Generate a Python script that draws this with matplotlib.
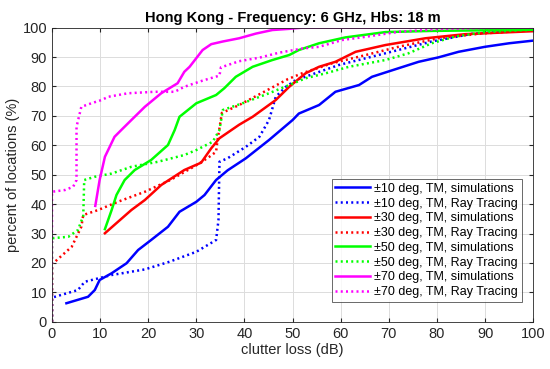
import matplotlib.pyplot as plt

plt.rcParams['font.family'] = ['Liberation Sans', 'DejaVu Sans']

# +-10 deg
b_sim_x = [3, 7.5, 8.9, 9.9, 12.4, 15.5, 17.9, 20.6, 24.1, 26.5, 30, 31.7, 34.1, 36.5, 40.3, 45.1, 50,
           51.3, 55.5, 58.9, 63.8, 66.5, 72, 76.2, 80.3, 84.5, 90, 95, 100]
b_sim_y = [6.3, 8.5, 10.8, 14.2, 16.5, 19.9, 24.4, 27.8, 32.3, 37.4, 40.8, 43.1, 48.2, 51.5, 55.6, 61.8, 68.6,
           70.8, 73.7, 78.2, 80.5, 83.3, 86.2, 88.4, 89.9, 91.8, 93.5, 94.7, 95.6]
b_rt_x = [0, 0, 5.4, 6.8, 12.4, 19.3, 24.4, 30, 34.1, 34.6, 34.8, 36.5, 40.3, 43.1, 45.1, 46.5, 48.6,
          50.7, 59.6, 69.3, 78.9, 87.2, 100]
b_rt_y = [0, 8.2, 10.8, 13.6, 15.9, 17.8, 20.4, 23.8, 27.8, 34.6, 54.4, 55.6, 59.5, 62.9, 68.6, 76.5, 79.9,
          82.2, 87.3, 91.3, 95.3, 97.9, 99.4]

# +-30 deg
r_sim_x = [11, 16.5, 19.3, 22.7, 27.5, 31, 33.1, 34.8, 38.9, 41.7, 46.5, 49.3, 52.7, 55.5, 58.9, 63.1,
           69.3, 77.6, 85.9, 100]
r_sim_y = [30.1, 38, 41.4, 46.5, 51.6, 54.1, 59, 62.4, 67, 69.7, 75.4, 79.9, 84.5, 86.7, 88.4, 91.8,
           94.1, 96.4, 97.8, 98.8]
r_rt_x = [0, 0, 0.6, 4.1, 6.1, 6.5, 9.6, 13.7, 19.3, 24.6, 30.6, 32.7, 34.1, 34.4, 34.8, 35.3, 38.9,
          45, 49, 52, 58.2, 65.2, 72, 80.3, 89.2, 100]
r_rt_y = [0, 20, 20.4, 25.5, 32.3, 36.3, 38, 40.8, 44.2, 48.2, 53.8, 56.1, 57.8, 61.8, 65.8, 71, 73.7,
          79, 82.5, 84.5, 87.9, 90.7, 93.5, 96.4, 98, 99.2]

# +-50 deg
g_sim_x = [11, 12.4, 13.4, 15.1, 17.2, 20.6, 24.1, 25.5, 26.5, 30, 34.1, 35.8, 38.2, 41.7, 45.8, 49.3,
           51.3, 55.5, 61, 69.3, 78.9, 100]
g_sim_y = [31.5, 38, 43.1, 48.2, 51.6, 55, 60.1, 65.2, 69.7, 74.3, 77.1, 79.4, 83.3, 86.7, 89, 90.7,
           92.4, 94.7, 96.7, 98.5, 98.9, 99.3]
g_rt_x = [0, 0, 3.4, 5.4, 6.5, 6.7, 8.9, 12.4, 16.5, 22, 27.5, 30, 33.4, 34.8, 35.5, 39.6, 45.1, 49.3,
          52.7, 56.9, 61.7, 69.3, 74.1, 78.9, 83.8, 90, 100]
g_rt_y = [0, 28.4, 28.9, 31.2, 36, 48.2, 49.3, 50.4, 52.7, 54.4, 56.7, 58.4, 61.2, 65.2, 72, 74.3, 77.7,
          80.5, 82.8, 84.5, 86.7, 89, 91.3, 94.7, 97, 98.5, 99.3]

# +-70 deg
m_sim_x = [9, 9.9, 11, 13, 14.4, 16.5, 19.3, 22.7, 26.1, 27.5, 28.6, 31.3, 33.1, 35.5, 38.9, 42.4,
           45.8, 49.3, 52, 100]
m_sim_y = [39.4, 48.2, 56.1, 62.9, 65.2, 68.6, 73.1, 77.7, 81.1, 85, 86.7, 92.4, 94.4, 95.3, 96.4, 98,
           99.2, 99.6, 100, 100]
m_rt_x = [0, 0, 2.7, 4.4, 5.1, 5.1, 6.1, 8.2, 10.3, 11.7, 15.8, 21.3, 25.5, 27.5, 31.3, 34.8, 35.1,
          38.9, 43.1, 47.2, 52, 55.5, 60.3, 65.2, 72, 80.3, 90, 100]
m_rt_y = [0, 44.2, 44.8, 45.9, 48.2, 66.3, 73.1, 74.3, 75.4, 76.5, 77.7, 78.2, 78.2, 79.9, 82, 83.7, 86.5,
          88.6, 89.8, 91.5, 92.9, 93.5, 95.8, 96.9, 98.6, 99.5, 99.9, 100]

series = [
    (b_sim_x, b_sim_y, '#0000ff', '-', '\u00b110 deg, TM, simulations'),
    (b_rt_x, b_rt_y, '#0000ff', ':', '\u00b110 deg, TM, Ray Tracing'),
    (r_sim_x, r_sim_y, '#ff0000', '-', '\u00b130 deg, TM, simulations'),
    (r_rt_x, r_rt_y, '#ff0000', ':', '\u00b130 deg, TM, Ray Tracing'),
    (g_sim_x, g_sim_y, '#00ff00', '-', '\u00b150 deg, TM, simulations'),
    (g_rt_x, g_rt_y, '#00ff00', ':', '\u00b150 deg, TM, Ray Tracing'),
    (m_sim_x, m_sim_y, '#ff00ff', '-', '\u00b170 deg, TM, simulations'),
    (m_rt_x, m_rt_y, '#ff00ff', ':', '\u00b170 deg, TM, Ray Tracing'),
]

fig = plt.figure(figsize=(5.5, 3.69), dpi=100)
ax = fig.add_axes([0.0945, 0.128, 0.875, 0.797])

for x, y, c, ls, lab in series:
    if ls == ':':
        ax.plot(x, y, color=c, lw=1.8, linestyle=(0, (0.8, 1.3)), label=lab)
    else:
        ax.plot(x, y, color=c, lw=1.8, label=lab)

ax.set_xlim(0, 100)
ax.set_ylim(0, 100)
ax.set_xticks(range(0, 101, 10))
ax.set_yticks(range(0, 101, 10))
ax.grid(True, color='#dcdcdc', lw=0.7)
ax.tick_params(direction='in', top=True, right=True, labelsize=10.5, length=3, colors='#262626')
for s in ax.spines.values():
    s.set_color('#262626')
    s.set_linewidth(0.6)

ax.set_xlabel('clutter loss (dB)', fontsize=10.5, color='#262626', labelpad=2)
ax.set_ylabel('percent of locations (%)', fontsize=10.5, color='#262626', labelpad=2)
ax.set_title('Hong Kong - Frequency: 6 GHz, Hbs: 18 m', fontsize=10.5, fontweight='bold', pad=4)

leg = ax.legend(loc='lower right', bbox_to_anchor=(0.976, 0.068), fontsize=9, frameon=True,
                fancybox=False, edgecolor='#262626', handlelength=2.8, handletextpad=0.3,
                labelspacing=0.22, borderpad=0.3, borderaxespad=0)
leg.get_frame().set_linewidth(0.6)

fig.savefig('out.png', dpi=100)
